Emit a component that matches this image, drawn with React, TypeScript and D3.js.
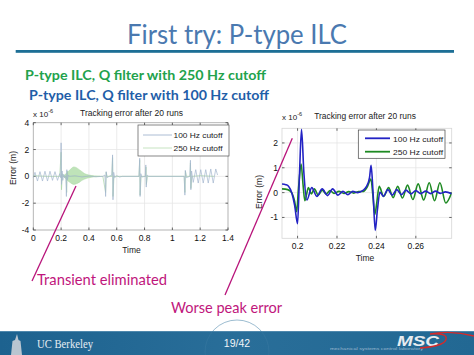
import React from "react";
import * as d3 from "d3";

// ---------- slide text ----------
const slideTitle = "First try: P-type ILC";
const subGreen = "P-type ILC, Q filter with 250 Hz cutoff";
const subBlue = "P-type ILC, Q filter with 100 Hz cutoff";
const noteLeft = "Transient eliminated";
const noteRight = "Worse peak error";
const pageLabel = "19/42";

// ---------- chart text ----------
const chartTitle = "Tracking error after 20 runs";
const legendNames = ["100 Hz cutoff", "250 Hz cutoff"];
const xLabel = "Time";
const yLabel = "Error (m)";

// ---------- left chart (full run) ----------
const leftXTicks = [0, 0.2, 0.4, 0.6, 0.8, 1, 1.2, 1.4];
const leftYTicks = [-4, -2, 0, 2, 4];
const leftBlue100: [number, number][] = [
  [0.0, -0.1], [0.012, 0.3], [0.03, -0.35], [0.048, 0.35], [0.066, -0.35], [0.084, 0.38],
  [0.102, -0.35], [0.12, 0.38], [0.138, -0.3], [0.156, 0.35], [0.174, -0.3], [0.19, 0.2],
  [0.197, -0.1], [0.2, 2.5], [0.203, -0.6], [0.207, 0.4], [0.212, -0.3], [0.218, 0.15],
  [0.226, -0.1], [0.234, 0.05], [0.238, -1.5], [0.241, 0.5], [0.246, -0.25], [0.252, 0.1],
  [0.26, 0], [0.3, 0.05], [0.35, -0.05], [0.4, 0.03], [0.45, -0.03], [0.5, 0], [0.515, 0.1],
  [0.52, -1.5], [0.524, 0.35], [0.53, -0.1], [0.545, 0], [0.565, 0.1], [0.57, 1.6],
  [0.573, -1.75], [0.578, 0.3], [0.585, -0.1], [0.6, 0.05], [0.62, -0.05], [0.64, 0],
  [0.76, 0], [0.765, 1.35], [0.768, -1.5], [0.773, 0.2], [0.78, -0.05], [0.805, 0],
  [0.809, 0.85], [0.812, -0.8], [0.818, 0.1], [0.83, 0], [1.085, 0], [1.09, -1.4],
  [1.093, 0.45], [1.1, -0.1], [1.125, 0], [1.13, 1.2], [1.133, -1.0], [1.138, 0.4],
  [1.15, -0.45], [1.168, 0.5], [1.186, -0.5], [1.204, 0.5], [1.222, -0.5], [1.24, 0.5],
  [1.258, -0.5], [1.276, 0.55], [1.294, -0.5], [1.312, 0.55], [1.325, 0.1],
];
const leftGreen250: [number, number][] = [
  [0, 0.05], [0.1, 0], [0.19, 0], [0.2, 1.8], [0.203, -1.0], [0.208, 0.2], [0.215, 0],
  [0.236, 0], [0.24, -1.2], [0.244, 0.4], [0.25, 0], [0.5, 0], [0.52, -1.2], [0.524, 0.3],
  [0.53, 0], [0.565, 0], [0.57, 1.4], [0.573, -1.5], [0.58, 0], [0.76, 0], [0.765, 1.2],
  [0.768, -1.4], [0.775, 0], [0.808, 0], [0.81, 0.7], [0.813, -0.6], [0.82, 0],
  [1.085, 0], [1.09, -1.2], [1.094, 0.4], [1.1, 0], [1.128, 0], [1.13, 1.0],
  [1.133, -0.9], [1.14, 0], [1.2, 0.05], [1.3, 0],
];
const burstTimes = [0.215, 0.23, 0.25, 0.27, 0.29, 0.31, 0.33, 0.35, 0.37, 0.4, 0.44, 0.48];
const burstUpper = [0, 0.15, 0.35, 0.55, 0.7, 0.65, 0.5, 0.35, 0.2, 0.1, 0.03, 0];
const burstLower = [0, -0.15, -0.35, -0.5, -0.6, -0.55, -0.45, -0.3, -0.2, -0.1, -0.03, 0];

// ---------- right chart (zoom) ----------
const rightXTicks = [0.2, 0.22, 0.24, 0.26];
const rightYTicks = [-1, 0, 1, 2];
const rightBlue100: [number, number][] = [
  [0.1921, 0.35], [0.194, 0.32], [0.1955, 0.25], [0.197, 0.0], [0.1985, -0.5], [0.2, -1.25],
  [0.201, 0.8], [0.202, 2.55], [0.2032, 0.8], [0.2047, -0.3], [0.2072, 0.2], [0.2098, -0.15],
  [0.2125, 0.15], [0.2152, -0.12], [0.2178, 0.15], [0.2205, -0.1], [0.223, 0.05],
  [0.2255, -0.08], [0.228, 0.05], [0.2305, 0.0], [0.233, 0.08], [0.235, 0.25], [0.2365, 0.6],
  [0.2373, 1.1], [0.2383, 0.0], [0.2394, -1.52], [0.2405, -0.7], [0.2418, 0.02],
  [0.2435, -0.15], [0.2458, 0.12], [0.248, -0.1], [0.2503, 0.12], [0.2527, -0.08],
  [0.255, 0.1], [0.2575, -0.05], [0.26, 0.08], [0.2625, -0.04], [0.265, 0.06],
  [0.2675, -0.04], [0.27, 0.06], [0.2725, -0.03], [0.275, 0.03], [0.2782, -0.05],
];
const rightGreen250: [number, number][] = [
  [0.1921, 0.15], [0.195, 0.12], [0.197, 0.0], [0.1985, -0.35], [0.1995, -0.77], [0.2005, 0.2],
  [0.2018, 1.15], [0.2028, 0.3], [0.2037, -0.33], [0.2055, 0.2], [0.207, -0.05], [0.2085, 0.15],
  [0.2105, -0.1], [0.2125, 0.1], [0.2145, -0.05], [0.2165, 0.08], [0.2185, -0.03],
  [0.221, 0.05], [0.2235, -0.03], [0.226, 0.04], [0.2285, -0.02], [0.231, 0.04],
  [0.2335, 0.05], [0.2355, 0.25], [0.2372, 0.55], [0.2382, -0.1], [0.2392, -0.88],
  [0.2402, -0.4], [0.2414, 0.25], [0.2437, -0.15], [0.2462, 0.2], [0.2485, -0.2],
  [0.2508, 0.25], [0.2532, -0.22], [0.2558, 0.3], [0.2585, -0.28], [0.2612, 0.35],
  [0.264, -0.3], [0.2668, 0.4], [0.2695, -0.33], [0.2722, 0.4], [0.2752, -0.42], [0.2782, 0.0],
];

const AX = "Liberation Sans, Arial, sans-serif";
const SL = "Lato, 'Open Sans', sans-serif";

type Cfg = {
  x0: number; x1: number; y0: number; y1: number;
  xd: [number, number]; yd: [number, number];
  xt: number[]; yt: number[];
  fmt: (v: number) => string;
};

function Axes({ c, x, y, boxColor }: { c: Cfg; x: any; y: any; boxColor: string }) {
  return (
    <g>
      <rect x={c.x0} y={c.y1} width={c.x1 - c.x0} height={c.y0 - c.y1} fill="#fff" />
      {c.xt.map((t) => (
        <line key={"gx" + t} x1={x(t)} x2={x(t)} y1={c.y0} y2={c.y1} stroke="#e6e6e6" strokeWidth={0.8} />
      ))}
      {c.yt.map((t) => (
        <line key={"gy" + t} x1={c.x0} x2={c.x1} y1={y(t)} y2={y(t)} stroke="#e6e6e6" strokeWidth={0.8} />
      ))}
      <rect x={c.x0} y={c.y1} width={c.x1 - c.x0} height={c.y0 - c.y1} fill="none" stroke={boxColor} strokeWidth={0.8} />
      {c.xt.map((t) => (
        <g key={"tx" + t}>
          <line x1={x(t)} x2={x(t)} y1={c.y0} y2={c.y0 - 2.5} stroke="#444" strokeWidth={0.8} />
          <line x1={x(t)} x2={x(t)} y1={c.y1} y2={c.y1 + 2.5} stroke="#444" strokeWidth={0.8} />
          <text x={x(t)} y={c.y0 + 11} textAnchor="middle" fontFamily={AX} fontSize={8.5} fill="#111">{c.fmt(t)}</text>
        </g>
      ))}
      {c.yt.map((t) => (
        <g key={"ty" + t}>
          <line x1={c.x0} x2={c.x0 + 2.5} y1={y(t)} y2={y(t)} stroke="#444" strokeWidth={0.8} />
          <line x1={c.x1} x2={c.x1 - 2.5} y1={y(t)} y2={y(t)} stroke="#444" strokeWidth={0.8} />
          <text x={c.x0 - 4} y={y(t) + 3} textAnchor="end" fontFamily={AX} fontSize={8.5} fill="#111">{t}</text>
        </g>
      ))}
    </g>
  );
}

export default function App() {
  // left chart
  const L: Cfg = {
    x0: 33.3, x1: 228, y0: 230, y1: 122.7, xd: [0, 1.4], yd: [-4, 4],
    xt: leftXTicks, yt: leftYTicks, fmt: (v) => String(+v.toFixed(1)),
  };
  const xL = d3.scaleLinear().domain(L.xd).range([L.x0, L.x1]);
  const yL = d3.scaleLinear().domain(L.yd).range([L.y0, L.y1]);
  const lineL = d3.line<[number, number]>().x((d) => xL(d[0])).y((d) => yL(d[1]));
  const burst = d3
    .area<number>()
    .x((_, i) => xL(burstTimes[i]))
    .y0((_, i) => yL(burstLower[i]))
    .y1((_, i) => yL(burstUpper[i]))
    .curve(d3.curveMonotoneX);

  // right chart
  const R: Cfg = {
    x0: 282, x1: 451.7, y0: 238.3, y1: 128.3, xd: [0.1921, 0.2782], yd: [-1.84, 2.59],
    xt: rightXTicks, yt: rightYTicks, fmt: (v) => String(+v.toFixed(2)),
  };
  const xR = d3.scaleLinear().domain(R.xd).range([R.x0, R.x1]);
  const yR = d3.scaleLinear().domain(R.yd).range([R.y0, R.y1]);
  const lineR = d3
    .line<[number, number]>()
    .x((d) => xR(d[0]))
    .y((d) => yR(d[1]))
    .curve(d3.curveMonotoneX);

  const rightColors = ["#2323c4", "#1e8a22"];

  return (
    <svg width={474} height={355} style={{ position: "absolute", left: 0, top: 0, background: "#fff" }}>
      <defs>
        <linearGradient id="foot" x1="0" x2="1" y1="0" y2="0">
          <stop offset="0" stopColor="#1d628f" />
          <stop offset="0.5" stopColor="#296e99" />
          <stop offset="1" stopColor="#226893" />
        </linearGradient>
        <clipPath id="clipR">
          <rect x={R.x0} y={R.y1} width={R.x1 - R.x0} height={R.y0 - R.y1} />
        </clipPath>
      </defs>
      <rect x={0} y={0} width={474} height={355} fill="#fff" />

      {/* slide title */}
      <text x={237} y={43.5} textAnchor="middle" fontFamily={SL} fontSize={27} fill="#4a79b0" textLength={220} lengthAdjust="spacingAndGlyphs">{slideTitle}</text>
      <rect x={15.7} y={50} width={438.3} height={2.8} fill="#1d6f96" />
      <text x={25} y={80} fontFamily={SL} fontWeight={700} fontSize={13.5} fill="#22a24c" textLength={241} lengthAdjust="spacingAndGlyphs">{subGreen}</text>
      <text x={29} y={100} fontFamily={SL} fontWeight={700} fontSize={13.5} fill="#1f5ea8" textLength={240} lengthAdjust="spacingAndGlyphs">{subBlue}</text>

      {/* ---------- left chart ---------- */}
      <g>
        <Axes c={L} x={xL} y={yL} boxColor="#b0b0b0" />
        <path d={burst(burstTimes) || ""} fill="#bfe3b9" stroke="#a6d6a0" strokeWidth={0.5} />
        <path d={lineL(leftGreen250) || ""} fill="none" stroke="#a8d6a3" strokeWidth={0.7} />
        <path d={lineL(leftBlue100) || ""} fill="none" stroke="#a3b6cf" strokeWidth={0.7} />
        <text x={131.5} y={116} textAnchor="middle" fontFamily={AX} fontSize={8.5} fill="#222" textLength={103} lengthAdjust="spacingAndGlyphs">{chartTitle}</text>
        <text x={33} y={117} fontFamily={AX} fontSize={8} fill="#222">x 10<tspan dy={-4} fontSize={5.5}>-6</tspan></text>
        <text transform={`translate(16,168) rotate(-90)`} textAnchor="middle" fontFamily={AX} fontSize={8.5} fill="#222">{yLabel}</text>
        <text x={131.5} y={253} textAnchor="middle" fontFamily={AX} fontSize={8.5} fill="#222">{xLabel}</text>
        {/* legend */}
        <rect x={138} y={125} width={91} height={31} fill="#fff" stroke="#555" strokeWidth={0.7} />
        {legendNames.map((n, i) => (
          <g key={n}>
            <line x1={143} x2={172} y1={135 + i * 13} y2={135 + i * 13} stroke={i === 0 ? "#a3b6cf" : "#bfe0ba"} strokeWidth={0.9} />
            <text x={173.5} y={138 + i * 13} fontFamily={AX} fontSize={8} fill="#222" textLength={49} lengthAdjust="spacingAndGlyphs">{n}</text>
          </g>
        ))}
      </g>

      {/* ---------- right chart ---------- */}
      <g>
        <Axes c={R} x={xR} y={yR} boxColor="#d6d6d6" />
        <g clipPath="url(#clipR)">
          <path d={lineR(rightGreen250) || ""} fill="none" stroke={rightColors[1]} strokeWidth={1.6} />
          <path d={lineR(rightBlue100) || ""} fill="none" stroke={rightColors[0]} strokeWidth={1.6} />
        </g>
        <text x={365} y={119} textAnchor="middle" fontFamily={AX} fontSize={8.5} fill="#222" textLength={101.7} lengthAdjust="spacingAndGlyphs">{chartTitle}</text>
        <text x={282} y={120} fontFamily={AX} fontSize={8} fill="#222">x 10<tspan dy={-4} fontSize={5.5}>-6</tspan></text>
        <text transform={`translate(262,192) rotate(-90)`} textAnchor="middle" fontFamily={AX} fontSize={8.5} fill="#222">{yLabel}</text>
        <text x={365} y={261} textAnchor="middle" fontFamily={AX} fontSize={8.5} fill="#222">{xLabel}</text>
        <rect x={358.3} y={130} width={86.7} height={28.3} fill="#fff" stroke="#444" strokeWidth={0.7} />
        {legendNames.map((n, i) => (
          <g key={n}>
            <line x1={365} x2={390} y1={138.3 + i * 13.4} y2={138.3 + i * 13.4} stroke={rightColors[i]} strokeWidth={1.8} />
            <text x={393} y={141.5 + i * 13.4} fontFamily={AX} fontSize={8} fill="#222" textLength={50} lengthAdjust="spacingAndGlyphs">{n}</text>
          </g>
        ))}
      </g>

      {/* annotations */}
      <line x1={32} y1={281} x2={76} y2={186} stroke="#b8137a" strokeWidth={1.3} />
      <line x1={225} y1={295} x2={292.3} y2={138.3} stroke="#b8137a" strokeWidth={1.3} />
      <text x={37} y={285} fontFamily={SL} fontSize={15} fill="#c0167c" textLength={130} lengthAdjust="spacingAndGlyphs">{noteLeft}</text>
      <text x={171} y={313} fontFamily={SL} fontSize={15} fill="#c0167c" textLength={111} lengthAdjust="spacingAndGlyphs">{noteRight}</text>

      {/* footer */}
      <rect x={0} y={331} width={474} height={24} fill="url(#foot)" />
      <rect x={0} y={331} width={474} height={1} fill="#4f88ad" />
      <circle cx={237} cy={352} r={32} fill="none" stroke="#3a79a2" strokeWidth={1} opacity={0.5} />
      <polygon points="17,334 18.5,340 20.5,341 22,355 11,355 12.5,341 15,340" fill="#b9c5d0" />
      <text x={37} y={347.5} fontFamily="Liberation Serif, DejaVu Serif, serif" fontSize={13} fill="#e6edf3" textLength={56} lengthAdjust="spacingAndGlyphs">UC Berkeley</text>
      <text x={237} y={347} textAnchor="middle" fontFamily={AX} fontSize={10.5} fill="#f2f5f8">{pageLabel}</text>
      <text x={330} y={350} fontFamily={AX} fontSize={4} fill="#9ab8cf" textLength={93} lengthAdjust="spacingAndGlyphs">mechanical systems control laboratory</text>
      <text x={397} y={346} fontFamily={AX} fontStyle="italic" fontWeight={700} fontSize={15} fill="#e8ecf0" textLength={42} lengthAdjust="spacingAndGlyphs">MSC</text>
      <path d="M 420 348 Q 448 346 446 337 Q 444 333 430 334 Q 452 330 474 336" fill="none" stroke="#d42a2a" strokeWidth={1.4} />
    </svg>
  );
}
